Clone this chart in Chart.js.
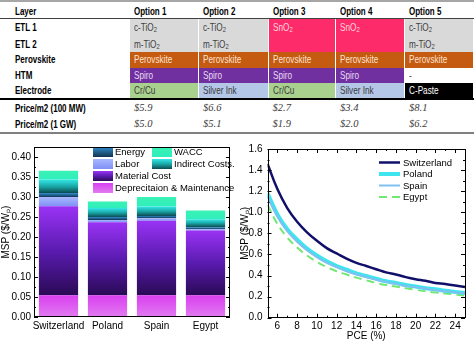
<!DOCTYPE html>
<html>
<head>
<meta charset="utf-8">
<script src="https://cdn.jsdelivr.net/npm/chart.js@4.4.0/dist/chart.umd.min.js"></script>
<style>
	html, body { margin: 0; padding: 0; background: #fff; }
	#page { position: relative; width: 474px; height: 348px; overflow: hidden; }
	.cell { position: absolute; box-sizing: border-box; padding-left: 4px; white-space: nowrap; overflow: hidden;
		font-family: "Liberation Sans", Arial, sans-serif; font-size: 10.5px; color: #404040; }
	.cell span { display: inline-block; transform: scaleX(0.78); transform-origin: 0 50%; }
	.cell sub { font-size: 7.5px; vertical-align: -1px; line-height: 0; }
	.hd { font-weight: bold; color: #000; font-size: 10.8px; }
	.lbl { font-weight: bold; color: #000; font-size: 10.8px; padding-left: 15px; }
	.hd span, .lbl span { transform: scaleX(0.74); }
	.price { font-family: "Liberation Serif", "Times New Roman", serif; font-style: italic; font-size: 10.5px; color: #3a3a3a; }
	.price span { transform: none; }
	.g { background: #d9d9d9; color: #404040; }
	.r { background: #fe2b6b; color: #ffd6de; }
	.o { background: #c55a11; color: #fde4d0; }
	.p { background: #7030a0; color: #e8dcf4; }
	.gr { background: #a9d18e; color: #3a3a3a; }
	.b { background: #b4c7e7; color: #3a3a3a; }
	.k { background: #000; color: #fff; }
	.w { background: #fff; color: #404040; }
	.rule { position: absolute; left: 0; width: 474px; }
	#barBox { position: absolute; left: 0; top: 138px; width: 237px; height: 210px; }
	#lineBox { position: absolute; left: 237px; top: 138px; width: 237px; height: 210px; }
</style>
</head>
<body>
<div id="page">
	<div id="table"></div>
	<div id="barBox"><canvas id="barChart" width="237" height="210"></canvas></div>
	<div id="lineBox"><canvas id="lineChart" width="237" height="210"></canvas></div>
</div>
<script>
// table content
var optionNames = ['Option 1', 'Option 2', 'Option 3', 'Option 4', 'Option 5'];
var layerNames = ['ETL 1', 'ETL 2', 'Perovskite', 'HTM', 'Electrode'];
var optionLayers = [
	[['c-TiO<sub>2</sub>', 'g'], ['m-TiO<sub>2</sub>', 'g'], ['Perovskite', 'o'], ['Spiro', 'p'], ['Cr/Cu', 'gr']],
	[['c-TiO<sub>2</sub>', 'g'], ['m-TiO<sub>2</sub>', 'g'], ['Perovskite', 'o'], ['Spiro', 'p'], ['Silver Ink', 'b']],
	[['SnO<sub>2</sub>', 'r'], ['', 'r'], ['Perovskite', 'o'], ['Spiro', 'p'], ['Cr/Cu', 'gr']],
	[['SnO<sub>2</sub>', 'r'], ['', 'r'], ['Perovskite', 'o'], ['Spiro', 'p'], ['Silver Ink', 'b']],
	[['c-TiO<sub>2</sub>', 'g'], ['m-TiO<sub>2</sub>', 'g'], ['Perovskite', 'o'], ['-', 'w'], ['C-Paste', 'k']]
];
var priceLabels = ['Price/m2 (100 MW)', 'Price/m2 (1 GW)'];
var price100MW = ['$5.9', '$6.6', '$2.7', '$3.4', '$8.1'];
var price1GW = ['$5.0', '$5.1', '$1.9', '$2.0', '$6.2'];

// bar chart data (MSP, $/Wp), stacked bottom to top
var countries = ['Switzerland', 'Poland', 'Spain', 'Egypt'];
var deprecMaint = [0.055, 0.055, 0.055, 0.055];
var materialCost = [0.222, 0.1825, 0.186, 0.1615];
var laborCost = [0.023, 0.0055, 0.0065, 0.003];
var energyCost = [0.010, 0.007, 0.0055, 0.0055];
var indirectCost = [0.034, 0.0225, 0.0235, 0.020];
var waccCost = [0.022, 0.0165, 0.0235, 0.0215];

// line chart data: MSP vs PCE
var pce = [5, 6, 7, 8, 9, 10, 11, 12, 13, 14, 15, 16, 17, 18, 19, 20, 21, 22, 23, 24, 25];
var pceTicks = [6, 8, 10, 12, 14, 16, 18, 20, 22, 24];
var mspSwitzerland = [1.46, 1.22, 1.04, 0.91, 0.81, 0.73, 0.66, 0.61, 0.56, 0.52, 0.49, 0.46, 0.43, 0.41, 0.385, 0.365, 0.35, 0.33, 0.32, 0.305, 0.29];
var mspPoland = [1.18, 0.98, 0.84, 0.74, 0.655, 0.59, 0.535, 0.49, 0.455, 0.42, 0.395, 0.37, 0.345, 0.33, 0.31, 0.295, 0.28, 0.27, 0.255, 0.245, 0.235];
var mspSpain = [1.15, 0.96, 0.82, 0.72, 0.64, 0.575, 0.52, 0.48, 0.44, 0.41, 0.385, 0.36, 0.34, 0.32, 0.30, 0.29, 0.275, 0.26, 0.25, 0.24, 0.23];
var mspEgypt = [1.07, 0.89, 0.76, 0.665, 0.59, 0.53, 0.48, 0.44, 0.41, 0.38, 0.355, 0.33, 0.31, 0.295, 0.28, 0.265, 0.25, 0.24, 0.23, 0.22, 0.21];

/* Table
------------------------------------------------ */
var colX = [130, 199, 268.5, 336, 405, 474];
var rowY = [19, 35.5, 52, 67.5, 83, 98];

var handleRenderTable = function() {
	var html = '';
	var cell = function(x, y, w, h, cls, text) {
		html += '<div class="cell ' + cls + '" style="left:' + x + 'px;top:' + y + 'px;width:' + w + 'px;height:' + h + 'px;line-height:' + h + 'px"><span>' + text + '</span></div>';
	};
	html += '<div class="rule" style="top:0;height:2px;background:#a6a6a6"></div>';
	html += '<div class="rule" style="top:18px;height:1px;background:#404040"></div>';
	html += '<div class="rule" style="top:98px;height:1.5px;background:#000"></div>';
	html += '<div class="rule" style="top:132px;height:2px;background:#808080"></div>';

	cell(0, 3, 130, 16, 'lbl', 'Layer');
	optionNames.forEach(function(n, i) {
		cell(colX[i], 3, colX[i + 1] - colX[i], 16, 'hd', n);
	});
	layerNames.forEach(function(n, r) {
		cell(0, rowY[r], 130, rowY[r + 1] - rowY[r], 'lbl', n);
	});
	optionLayers.forEach(function(layers, i) {
		layers.forEach(function(l, r) {
			cell(colX[i], rowY[r], colX[i + 1] - colX[i] - 1, rowY[r + 1] - rowY[r], l[1], l[0]);
		});
	});
	[price100MW, price1GW].forEach(function(row, r) {
		var y = 100 + r * 16;
		cell(0, y, 130, 16, 'lbl', priceLabels[r]);
		row.forEach(function(v, i) {
			cell(colX[i], y, colX[i + 1] - colX[i], 16, 'price', v);
		});
	});
	document.getElementById('table').innerHTML = html;
};

/* Charts
------------------------------------------------ */
var FONT_FAMILY = '"Liberation Sans", Arial, sans-serif';

var deprecStops = ['#d93ff0', '#e27cf0'];
var materialStops = ['#9a33f5', '#5a1bb0', '#2a0a55'];
var laborStops = ['#a8b8ff', '#8090f5'];
var energyStops = ['#2f8ccc', '#123452'];
var indirectStops = ['#33e8e6', '#1aa8a8', '#0c4a50'];
var waccStops = ['#3af2b4', '#30eebc'];

var paintStops = function(g, stops) {
	stops.forEach(function(c, n) {
		g.addColorStop(n / (stops.length - 1), c);
	});
	return g;
};

var segmentFill = function(stops) {
	return function(ctx) {
		var chart = ctx.chart, y = chart.scales.y;
		if (ctx.type !== 'data' || !y || !chart.chartArea) return stops[0];
		var base = 0;
		for (var k = 0; k < ctx.datasetIndex; k++) base += chart.data.datasets[k].data[ctx.dataIndex];
		var top = base + ctx.raw;
		var g = chart.ctx.createLinearGradient(0, y.getPixelForValue(top), 0, y.getPixelForValue(base));
		return paintStops(g, stops);
	};
};

// frame with inward major / minor ticks on all sides
var framePlugin = {
	id: 'frame',
	afterDatasetsDraw: function(chart, args, opts) {
		var c = chart.ctx, a = chart.chartArea;
		c.save();
		c.strokeStyle = '#000';
		c.lineWidth = 1;
		c.beginPath();
		var tick = function(scale, v, horizontal) {
			var major = scale.ticks.some(function(t) { return Math.abs(t.value - v) < 1e-6; });
			var len = major ? 4 : 2;
			var p = Math.round(scale.getPixelForValue(v)) + 0.5;
			if (horizontal) {
				c.moveTo(p, a.bottom); c.lineTo(p, a.bottom - len);
				c.moveTo(p, a.top); c.lineTo(p, a.top + len);
			} else {
				c.moveTo(a.left, p); c.lineTo(a.left + len, p);
				c.moveTo(a.right, p); c.lineTo(a.right - len, p);
			}
		};
		var ys = chart.scales.y;
		for (var k = 0; ys.min + k * opts.yMinor <= ys.max + 1e-9; k++) tick(ys, ys.min + k * opts.yMinor, false);
		if (opts.xMinor) {
			var xs = chart.scales.x;
			for (var j = 0; xs.min + j * opts.xMinor <= xs.max + 1e-9; j++) tick(xs, xs.min + j * opts.xMinor, true);
		}
		c.stroke();
		c.strokeRect(Math.round(a.left) + 0.5, Math.round(a.top) + 0.5, Math.round(a.right - a.left) - 1, Math.round(a.bottom - a.top) - 1);
		c.restore();
	}
};

var barLegendPlugin = {
	id: 'barLegend',
	afterDatasetsDraw: function(chart) {
		var c = chart.ctx;
		var items = [
			['Energy', energyStops, 93, 14], ['Labor', laborStops, 93, 26],
			['Material Cost', materialStops, 93, 38], ['Deprecitaion & Maintenance', deprecStops, 93, 50],
			['WACC', waccStops, 152, 14], ['Indirect Costs.', indirectStops, 152, 26]
		];
		c.save();
		c.font = '9.5px ' + FONT_FAMILY;
		c.textBaseline = 'middle';
		items.forEach(function(it) {
			var g = c.createLinearGradient(0, it[3] - 5, 0, it[3] + 5);
			c.fillStyle = paintStops(g, it[1]);
			c.fillRect(it[2], it[3] - 5, 20, 10);
			c.fillStyle = '#000';
			c.fillText(it[0], it[2] + 22, it[3] + 0.5);
		});
		c.restore();
	}
};

var lineLegendPlugin = {
	id: 'lineLegend',
	afterDatasetsDraw: function(chart) {
		var c = chart.ctx;
		c.save();
		c.font = '9.5px ' + FONT_FAMILY;
		c.textBaseline = 'middle';
		chart.data.datasets.forEach(function(ds, i) {
			var y = 24.5 + i * 11.5;
			c.strokeStyle = ds.borderColor;
			c.lineWidth = ds.borderWidth;
			c.setLineDash(ds.borderDash || []);
			c.beginPath();
			c.moveTo(142, y); c.lineTo(163, y);
			c.stroke();
			c.fillStyle = '#000';
			c.fillText(ds.label, 166, y + 0.5);
		});
		c.restore();
	}
};

var barChart, lineChart;

var handleRenderCharts = function() {
	Chart.defaults.font.family = FONT_FAMILY;
	Chart.defaults.color = '#000';
	Chart.defaults.animation = false;

	var barSets = [
		['Deprecitaion & Maintenance', deprecMaint, deprecStops],
		['Material Cost', materialCost, materialStops],
		['Labor', laborCost, laborStops],
		['Energy', energyCost, energyStops],
		['Indirect Costs.', indirectCost, indirectStops],
		['WACC', waccCost, waccStops]
	];

	barChart = new Chart(document.getElementById('barChart'), {
		type: 'bar',
		data: {
			labels: countries,
			datasets: barSets.map(function(s) {
				return { label: s[0], data: s[1], backgroundColor: segmentFill(s[2]), borderWidth: 0, categoryPercentage: 1, barPercentage: 0.8 };
			})
		},
		options: {
			responsive: false,
			layout: { padding: { top: 9, right: 7, left: 0, bottom: 0 } },
			plugins: { legend: { display: false }, tooltip: { enabled: false }, frame: { yMinor: 0.025 } },
			scales: {
				x: {
					stacked: true,
					grid: { display: false, drawTicks: false },
					border: { display: false },
					ticks: { font: { size: 10 }, padding: 3, maxRotation: 0, autoSkip: false },
					afterFit: function(s) { s.height = 30.7; }
				},
				y: {
					stacked: true,
					min: 0,
					max: 0.425,
					grid: { display: false, drawTicks: false },
					border: { display: false },
					ticks: { stepSize: 0.05, includeBounds: false, padding: 3, font: { size: 10 }, callback: function(v) { return v.toFixed(2); } },
					title: { display: true, text: 'MSP ($/Wₚ)', font: { size: 10 }, padding: { top: 0, bottom: 0 } },
					afterFit: function(s) { s.width = 34; }
				}
			}
		},
		plugins: [barLegendPlugin, framePlugin]
	});

	var toPoints = function(values) {
		return values.map(function(v, i) { return { x: pce[i], y: v }; });
	};

	lineChart = new Chart(document.getElementById('lineChart'), {
		type: 'line',
		data: {
			datasets: [
				{ label: 'Switzerland', data: toPoints(mspSwitzerland), borderColor: '#10106a', borderWidth: 2.5, order: 0 },
				{ label: 'Poland', data: toPoints(mspPoland), borderColor: '#3ee4ee', borderWidth: 4, order: 2 },
				{ label: 'Spain', data: toPoints(mspSpain), borderColor: '#7ec0f0', borderWidth: 2, order: 1 },
				{ label: 'Egypt', data: toPoints(mspEgypt), borderColor: '#72e872', borderWidth: 2, borderDash: [8, 5], order: 3 }
			]
		},
		options: {
			responsive: false,
			layout: { padding: { top: 9, right: 9, left: 0, bottom: 0 } },
			elements: { point: { radius: 0 }, line: { tension: 0.4, fill: false } },
			plugins: { legend: { display: false }, tooltip: { enabled: false }, frame: { yMinor: 0.1, xMinor: 1 } },
			scales: {
				x: {
					type: 'linear',
					min: 5,
					max: 25,
					grid: { display: false, drawTicks: false },
					border: { display: false },
					ticks: { autoSkip: false, maxRotation: 0, padding: 3, font: { size: 10 } },
					afterBuildTicks: function(s) {
						s.ticks = pceTicks.map(function(v) { return { value: v }; });
					},
					title: { display: true, text: 'PCE (%)', font: { size: 10 }, padding: { top: 0, bottom: 6 } },
					afterFit: function(s) { s.height = 30.3; }
				},
				y: {
					min: 0,
					max: 1.6,
					grid: { display: false, drawTicks: false },
					border: { display: false },
					ticks: { stepSize: 0.2, padding: 5, font: { size: 10 }, callback: function(v) { return v.toFixed(1); } },
					title: { display: true, text: 'MSP ($/Wₚ)', font: { size: 10 }, padding: { top: 2, bottom: 0 } },
					afterFit: function(s) { s.width = 30.5; }
				}
			}
		},
		plugins: [lineLegendPlugin, framePlugin]
	});
};

handleRenderTable();
handleRenderCharts();
</script>
</body>
</html>
